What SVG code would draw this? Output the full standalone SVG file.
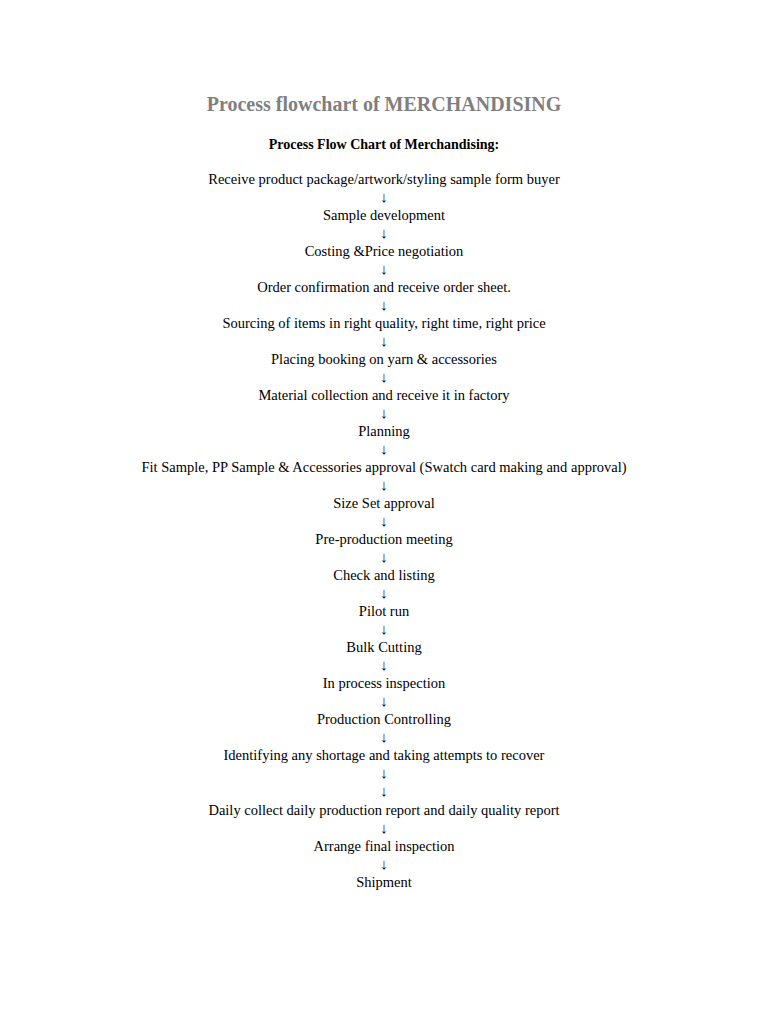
<svg xmlns="http://www.w3.org/2000/svg" width="768" height="1024" viewBox="0 0 768 1024">
<style>
text{font-family:"Liberation Serif","Times New Roman",serif;text-anchor:middle;fill:#000;font-size:14.5px}
.t{font-size:20px;font-weight:bold;fill:#7f7f7f}
.s{font-weight:bold;font-size:14px}
.a{font-size:15px}
</style>
<rect width="768" height="1024" fill="#fff"/>
<text class="t" x="384" y="111">Process flowchart of MERCHANDISING</text>
<text class="s" x="384" y="149">Process Flow Chart of Merchandising:</text>
<g id="n1"><text x="384" y="184">Receive product package/artwork/styling sample form buyer</text></g>
<g id="n2"><text x="384" y="220">Sample development</text></g>
<g id="n3"><text x="384" y="256">Costing &amp;Price negotiation</text></g>
<g id="n4"><text x="384" y="292">Order confirmation and receive order sheet.</text></g>
<g id="n5"><text x="384" y="328">Sourcing of items in right quality, right time, right price</text></g>
<g id="n6"><text x="384" y="364">Placing booking on yarn &amp; accessories</text></g>
<g id="n7"><text x="384" y="400">Material collection and receive it in factory</text></g>
<g id="n8"><text x="384" y="436">Planning</text></g>
<g id="n9"><text x="384" y="472">Fit Sample, PP Sample &amp; Accessories approval (Swatch card making and approval)</text></g>
<g id="n10"><text x="384" y="508">Size Set approval</text></g>
<g id="n11"><text x="384" y="544">Pre-production meeting</text></g>
<g id="n12"><text x="384" y="580">Check and listing</text></g>
<g id="n13"><text x="384" y="616">Pilot run</text></g>
<g id="n14"><text x="384" y="652">Bulk Cutting</text></g>
<g id="n15"><text x="384" y="688">In process inspection</text></g>
<g id="n16"><text x="384" y="724">Production Controlling</text></g>
<g id="n17"><text x="384" y="760">Identifying any shortage and taking attempts to recover</text></g>
<g id="n18"><text x="384" y="815">Daily collect daily production report and daily quality report</text></g>
<g id="n19"><text x="384" y="851">Arrange final inspection</text></g>
<g id="n20"><text x="384" y="887">Shipment</text></g>
<g id="connectors" class="a">
<text class="a" x="384" y="202">↓</text>
<text class="a" x="384" y="238">↓</text>
<text class="a" x="384" y="274">↓</text>
<text class="a" x="384" y="310">↓</text>
<text class="a" x="384" y="346">↓</text>
<text class="a" x="384" y="382">↓</text>
<text class="a" x="384" y="418">↓</text>
<text class="a" x="384" y="454">↓</text>
<text class="a" x="384" y="490">↓</text>
<text class="a" x="384" y="526">↓</text>
<text class="a" x="384" y="562">↓</text>
<text class="a" x="384" y="598">↓</text>
<text class="a" x="384" y="634">↓</text>
<text class="a" x="384" y="670">↓</text>
<text class="a" x="384" y="706">↓</text>
<text class="a" x="384" y="742">↓</text>
<text class="a" x="384" y="778">↓</text>
<text class="a" x="384" y="796">↓</text>
<text class="a" x="384" y="833">↓</text>
<text class="a" x="384" y="869">↓</text>
</g>
</svg>
